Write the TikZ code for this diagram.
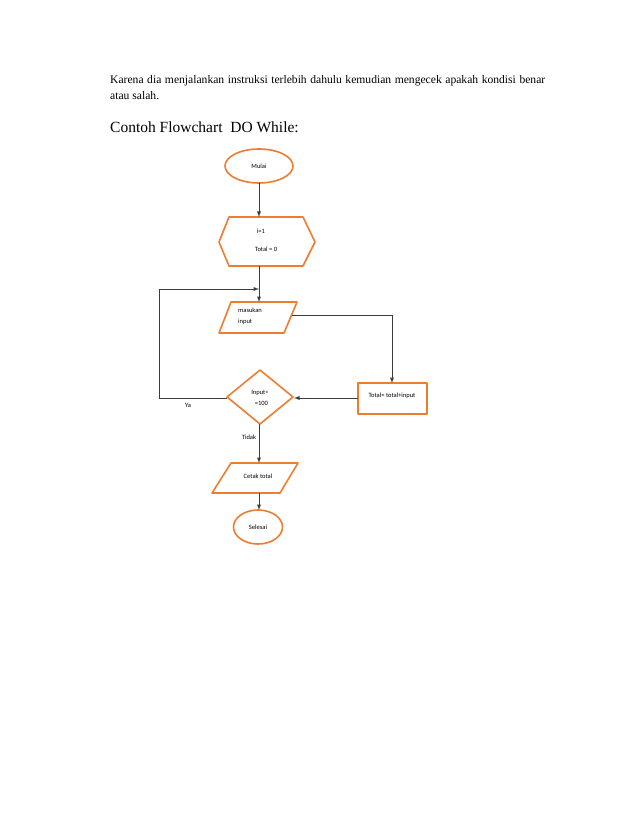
\documentclass[tikz,border=0pt]{standalone}
\usepackage{fontspec}
\setmainfont{Liberation Serif}
\newfontfamily\flowfont{Carlito}
\definecolor{orng}{RGB}{237,125,49}
\definecolor{ln}{RGB}{60,60,60}
\begin{document}
\begin{tikzpicture}[x=1pt,y=-1pt,
  shp/.style={draw=orng,line width=1.6pt,line join=round},
  con/.style={draw=ln,line width=0.9pt,-latex},
  lin/.style={draw=ln,line width=0.9pt},
  lbl/.style={font=\flowfont\fontsize{6.5}{9}\selectfont,inner sep=0pt,align=center}]
\useasboundingbox[fill=white] (0,0) rectangle (638,826);
\node[anchor=north west,inner sep=0pt,text width=435pt,align=justify,font=\fontsize{11.6}{16}\selectfont] (par) at (110,75) {Karena dia menjalankan instruksi terlebih dahulu kemudian mengecek apakah kondisi benar atau salah.};
\node[anchor=west,inner sep=0pt,font=\fontsize{15.5}{18}\selectfont] (title) at (110,127) {Contoh Flowchart\ \ DO While:};
% shapes
\draw[shp] (259,166) ellipse (34 and 17);
\draw[shp] (219,242)--(229,217)--(303,217)--(315,242)--(303,266)--(229,266)--cycle;
\draw[shp] (231,302)--(297,302)--(284,333)--(219,333)--cycle;
\draw[shp] (358,383) rectangle (427,414);
\draw[shp] (227,397)--(260,370)--(293,397)--(260,424)--cycle;
\draw[shp] (231,463)--(298,463)--(280,493)--(212,493)--cycle;
\draw[shp] (258,527) ellipse (24.5 and 17);
% text nodes
\node[lbl] (mulai) at (259,166) {Mulai};
\node[lbl] (i1) at (261,231) {i=1};
\node[lbl] (tot0) at (266,249) {Total = 0};
\node[lbl,align=left,anchor=west] (mas) at (238,316) {masukan\\[2pt]input};
\node[lbl] (rect) at (392,396) {Total= total+input};
\node[lbl] (dia) at (260,398) {Input<\\[2pt]\ \ =100};
\node[lbl] (ya) at (188,405) {Ya};
\node[lbl] (tidak) at (249,437) {Tidak};
\node[lbl] (cetak) at (258,476) {Cetak total};
\node[lbl] (sel) at (258,527) {Selesai};
% connector coordinates
\coordinate (m1) at (259,183); \coordinate (h1) at (259,217);
\coordinate (h2) at (259,266); \coordinate (p1) at (259,302);
\coordinate (pr) at (292,315); \coordinate (rt) at (392,383);
\coordinate (rl) at (358,398); \coordinate (dr) at (294,398);
\coordinate (dl) at (227,398); \coordinate (lp) at (259,289);
\coordinate (db) at (259,424); \coordinate (ct) at (259,463);
\coordinate (cb) at (259,493); \coordinate (st) at (259,510);
\draw[con] (m1)--(h1);
\draw[con] (h2)--(p1);
\draw[con] (pr)-|(rt);
\draw[con] (rl)--(dr);
\draw[con] (dl)--(159,398)--(159,289)--(lp);
\draw[con] (db)--(ct);
\draw[con] (cb)--(st);
\end{tikzpicture}
\end{document}
